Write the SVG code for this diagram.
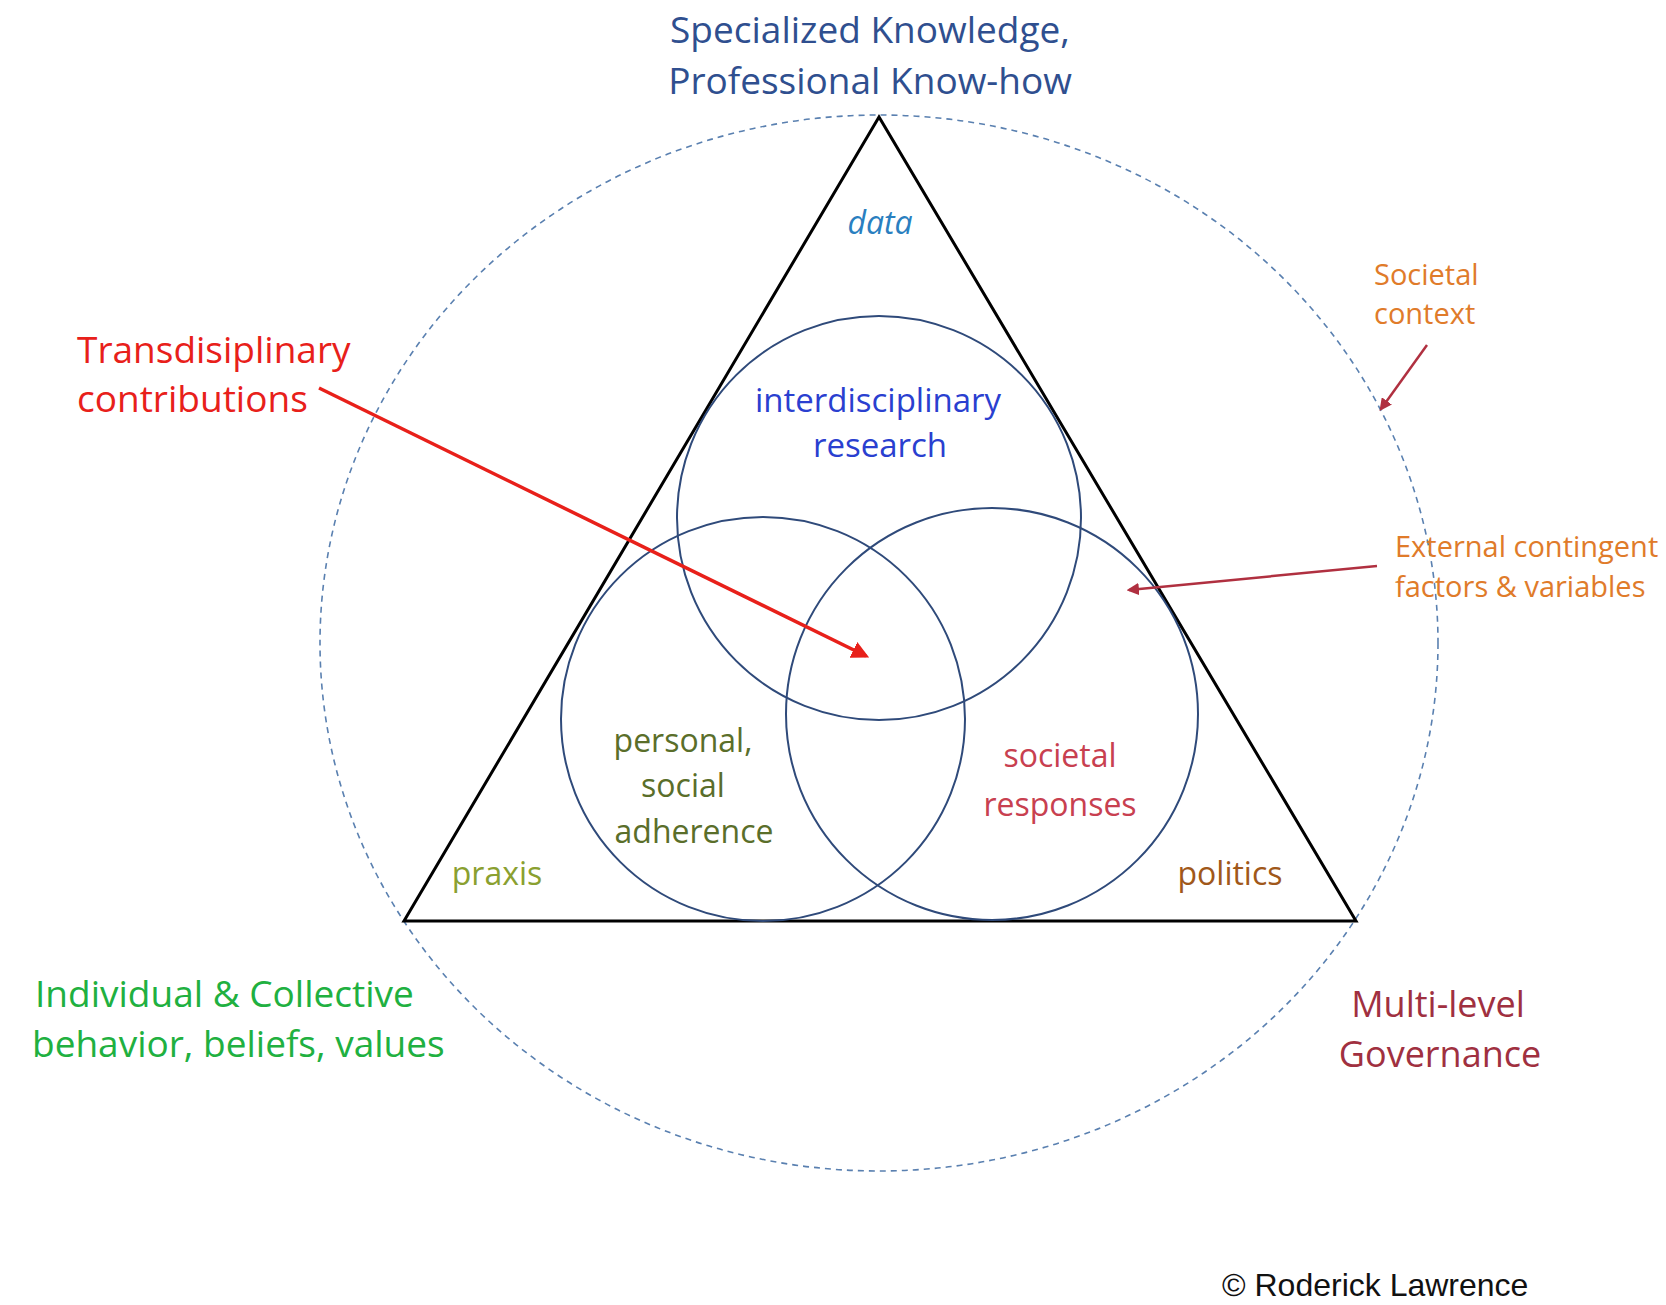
<svg xmlns="http://www.w3.org/2000/svg" width="1666" height="1305" viewBox="0 0 1666 1305">
<style>
text{font-family:"Open Sans","Liberation Sans",sans-serif}
.c{fill:none;stroke:#2f4a7a;stroke-width:2}
.m{text-anchor:middle}
</style>
<defs>
<marker id="ar" viewBox="0 0 10 10" refX="8" refY="5" markerWidth="5" markerHeight="5" orient="auto"><path d="M0,0L10,5L0,10z" fill="#e8201a"/></marker>
<marker id="ad" viewBox="0 0 10 10" refX="8" refY="5" markerWidth="5" markerHeight="5" orient="auto"><path d="M0,0L10,5L0,10z" fill="#b03040"/></marker>
</defs>
<rect width="1666" height="1305" fill="#fff"/>
<g id="context"><ellipse cx="879" cy="643" rx="559" ry="528" fill="none" stroke="#5a80b0" stroke-width="1.6" stroke-dasharray="6,5"/></g>
<g id="triangle"><polygon points="879,117 404,921 1356,921" fill="none" stroke="#000" stroke-width="3"/></g>
<g id="circle-top"><circle class="c" cx="879" cy="518" r="202"/></g>
<g id="circle-left"><circle class="c" cx="763" cy="719" r="202"/></g>
<g id="circle-right"><circle class="c" cx="992" cy="714" r="206"/></g>
<g id="connectors">
<line x1="319" y1="388" x2="866" y2="656" stroke="#e8201a" stroke-width="3.5" marker-end="url(#ar)"/>
<line x1="1427" y1="345" x2="1381" y2="409" stroke="#b03040" stroke-width="2.5" marker-end="url(#ad)"/>
<line x1="1377" y1="566" x2="1129" y2="590" stroke="#b03040" stroke-width="2.5" marker-end="url(#ad)"/>
</g>
<g id="labels">
<text class="m" x="870" y="43" fill="#2f4f8f" font-size="37">Specialized Knowledge,</text>
<text class="m" x="870" y="94" fill="#2f4f8f" font-size="37">Professional Know-how</text>
<text class="m" x="880" y="234" fill="#2a7fc0" font-style="italic" font-size="32">data</text>
<text x="1374" y="285" fill="#e07b2a" font-size="29">Societal</text>
<text x="1374" y="324" fill="#e07b2a" font-size="29">context</text>
<text x="77" y="363" fill="#e8201a" font-size="37">Transdisiplinary</text>
<text x="77" y="412" fill="#e8201a" font-size="37">contributions</text>
<text class="m" x="878" y="412" fill="#2a3fd0" font-size="33">interdisciplinary</text>
<text class="m" x="880" y="457" fill="#2a3fd0" font-size="33">research</text>
<text x="1395" y="557" fill="#e07b2a" font-size="29">External contingent</text>
<text x="1395" y="597" fill="#e07b2a" font-size="29">factors &amp; variables</text>
<text class="m" x="683" y="752" fill="#5a6e2a" font-size="32">personal,</text>
<text class="m" x="683" y="797" fill="#5a6e2a" font-size="32">social</text>
<text class="m" x="694" y="843" fill="#5a6e2a" font-size="32">adherence</text>
<text class="m" x="1060" y="767" fill="#c84050" font-size="32">societal</text>
<text class="m" x="1060" y="816" fill="#c84050" font-size="32">responses</text>
<text class="m" x="497" y="885" fill="#8aa030" font-size="32">praxis</text>
<text class="m" x="1230" y="885" fill="#a0581a" font-size="32">politics</text>
<text x="35" y="1007" fill="#20b040" font-size="37">Individual &amp; Collective</text>
<text x="32" y="1057" fill="#20b040" font-size="37">behavior, beliefs, values</text>
<text class="m" x="1438" y="1017" fill="#a03040" font-size="36">Multi-level</text>
<text class="m" x="1440" y="1067" fill="#a03040" font-size="36">Governance</text>
<text x="1222" y="1296" fill="#111" font-size="32" style="font-family:'Liberation Sans',sans-serif">© Roderick Lawrence</text>
</g>
</svg>
